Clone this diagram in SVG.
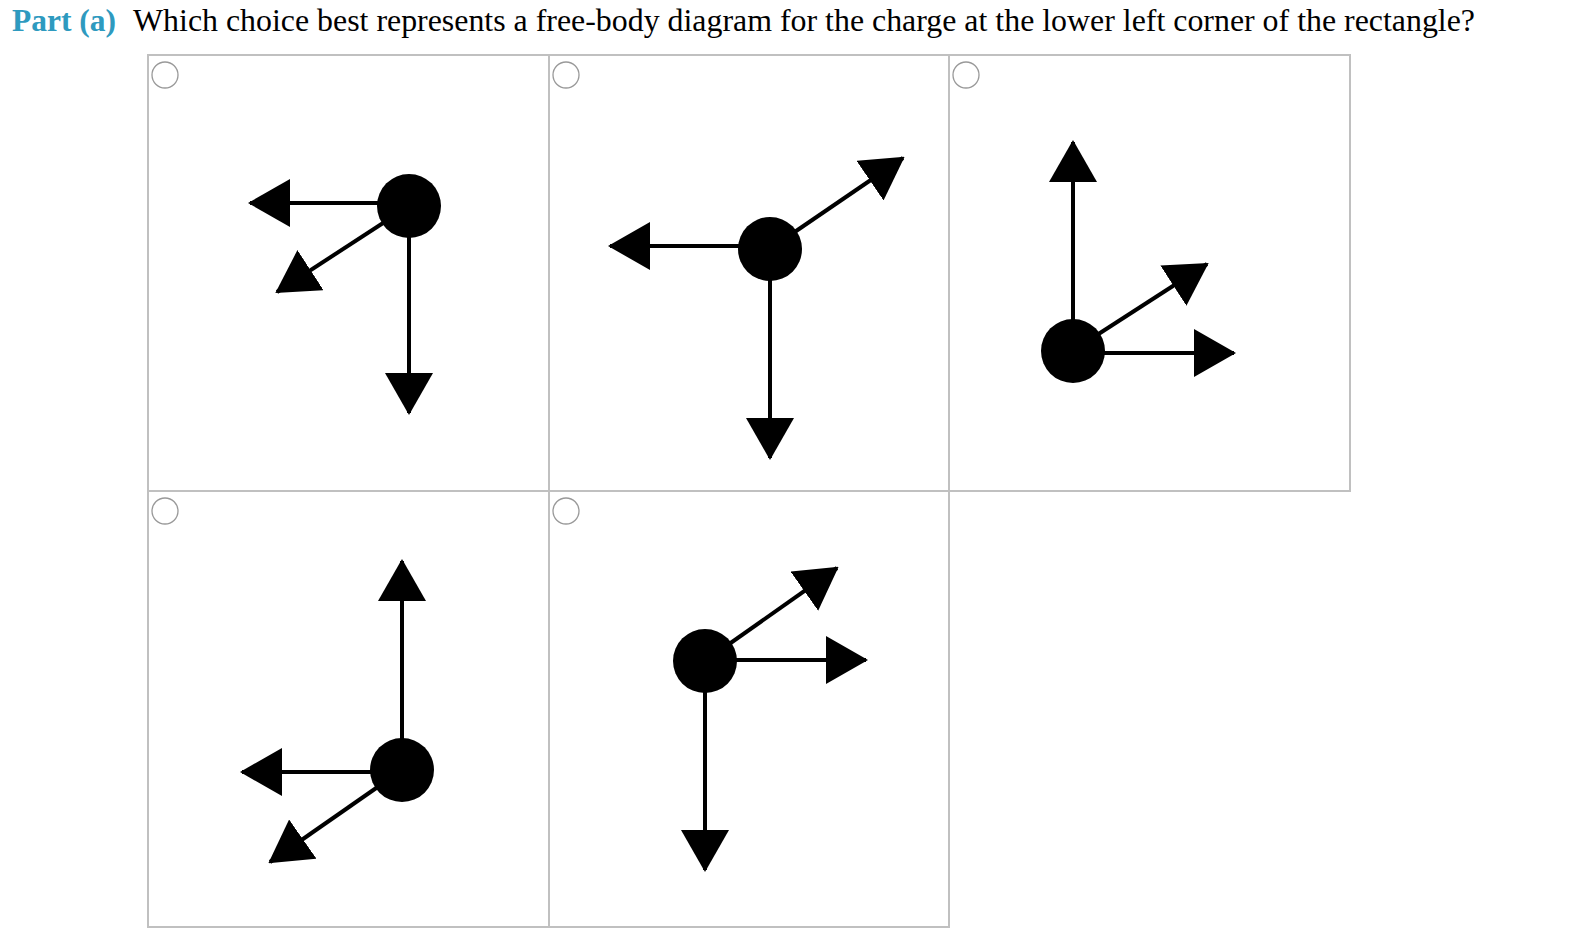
<svg xmlns="http://www.w3.org/2000/svg" width="1574" height="940" viewBox="0 0 1574 940">
<style>
.cell{fill:#fff;stroke:#c0c0c0;stroke-width:2}
.radio{fill:#fff;stroke:#999;stroke-width:1.3}
.v{stroke:#000;stroke-width:4;fill:none;marker-end:url(#ah)}
.dot{fill:#000}
</style>
<defs>
<marker id="ah" markerUnits="userSpaceOnUse" markerWidth="42" markerHeight="50" refX="40" refY="24" orient="auto" viewBox="0 0 42 50">
<path d="M0,0 L42,24 L0,48 z" fill="#000"/>
</marker>
</defs>
<rect width="1574" height="940" fill="#fff"/>
<text y="31" font-family="Liberation Serif, serif" font-size="31.5"><tspan x="12" fill="#2e9abf" font-weight="bold">Part (a)</tspan><tspan x="133" fill="#000" textLength="1342" lengthAdjust="spacingAndGlyphs">Which choice best represents a free-body diagram for the charge at the lower left corner of the rectangle?</tspan></text>
<g id="cells">
<rect class="cell" x="148" y="55" width="401" height="436"/>
<rect class="cell" x="549" y="55" width="400" height="436"/>
<rect class="cell" x="949" y="55" width="401" height="436"/>
<rect class="cell" x="148" y="491" width="401" height="436"/>
<rect class="cell" x="549" y="491" width="400" height="436"/>
<circle class="radio" cx="165" cy="75" r="13"/>
<circle class="radio" cx="566" cy="75" r="13"/>
<circle class="radio" cx="966" cy="75" r="13"/>
<circle class="radio" cx="165" cy="511" r="13"/>
<circle class="radio" cx="566" cy="511" r="13"/>
</g>
<g id="connectors">
<line class="v" x1="409" y1="203" x2="250" y2="203"/>
<line class="v" x1="409" y1="206" x2="409" y2="413"/>
<line class="v" x1="400" y1="212" x2="277" y2="292"/>
<line class="v" x1="770" y1="246" x2="610" y2="246"/>
<line class="v" x1="770" y1="249" x2="770" y2="458"/>
<line class="v" x1="780" y1="242" x2="903" y2="158"/>
<line class="v" x1="1073" y1="351" x2="1073" y2="142"/>
<line class="v" x1="1073" y1="353" x2="1234" y2="353"/>
<line class="v" x1="1083" y1="344" x2="1207" y2="264"/>
<line class="v" x1="402" y1="770" x2="402" y2="561"/>
<line class="v" x1="402" y1="772" x2="242" y2="772"/>
<line class="v" x1="392" y1="777" x2="270" y2="862"/>
<line class="v" x1="705" y1="660" x2="866" y2="660"/>
<line class="v" x1="715" y1="654" x2="837" y2="568"/>
<line class="v" x1="705" y1="661" x2="705" y2="870"/>
</g>
<g id="n1"><circle class="dot" cx="409" cy="206" r="32"/></g>
<g id="n2"><circle class="dot" cx="770" cy="249" r="32"/></g>
<g id="n3"><circle class="dot" cx="1073" cy="351" r="32"/></g>
<g id="n4"><circle class="dot" cx="402" cy="770" r="32"/></g>
<g id="n5"><circle class="dot" cx="705" cy="661" r="32"/></g>
</svg>
